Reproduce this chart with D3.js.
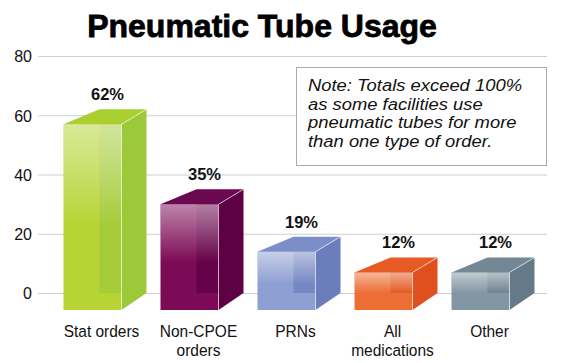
<!DOCTYPE html>
<html>
<head>
<meta charset="utf-8">
<script src="https://cdn.jsdelivr.net/npm/d3@7"></script>
<style>
  body { margin: 0; background: #fff; }
  svg { display: block; font-family: "Liberation Sans", Arial, sans-serif; }
</style>
</head>
<body>
<div id="chart"></div>
<script>
// chart data
var categories = ["Stat orders", "Non-CPOE orders", "PRNs", "All medications", "Other"];
var labelLines = [["Stat orders"], ["Non-CPOE", "orders"], ["PRNs"], ["All", "medications"], ["Other"]];
var values = [62, 35, 19, 12, 12];
var yTicks = [0, 20, 40, 60, 80];
var noteLines = ["Note: Totals exceed 100%", "as some facilities use", "pneumatic tubes for more", "than one type of order."];

// colours for each box: front, inner (back seen through), side, top
var palette = [
  { front: "#b7d334", inner: "#9fca3b", side: "#9cc93a", top: "#a9cf30" },
  { front: "#7c0a56", inner: "#5f0046", side: "#5e0044", top: "#6c084f" },
  { front: "#8e9fd3", inner: "#6e80bd", side: "#6b7dbb", top: "#7c8ec8" },
  { front: "#ec6e34", inner: "#e0541f", side: "#e04f1e", top: "#e65a24" },
  { front: "#8396a4", inner: "#677c8a", side: "#657a89", top: "#738794" }
];

var svgWidth = 564;
var svgHeight = 363;

var svg = d3.select("#chart")
  .append("svg")
  .attr("width", svgWidth)
  .attr("height", svgHeight);

// white highlight on the front of each box
var defs = svg.append("defs");
var hl = defs.append("linearGradient")
  .attr("id", "shine")
  .attr("x1", 0).attr("y1", 0).attr("x2", 0).attr("y2", 1);
hl.append("stop").attr("offset", "0").attr("stop-color", "#fff").attr("stop-opacity", 0.5);
hl.append("stop").attr("offset", "0.55").attr("stop-color", "#fff").attr("stop-opacity", 0);

// scales
var yScale = d3.scaleLinear()
  .domain([0, 80])
  .range([293, 56]);

var xScale = d3.scaleBand()
  .domain(categories)
  .range([53, 538]);

// gridlines + tick labels
var yAxis = d3.axisLeft(yScale)
  .tickValues(yTicks)
  .tickSize(-(547 - 38))
  .tickPadding(6);

var axisG = svg.append("g")
  .attr("transform", "translate(38,0)")
  .call(yAxis);
axisG.select(".domain").remove();
axisG.selectAll(".tick line").attr("stroke", "#cfcfcf").attr("stroke-width", 1);
axisG.selectAll(".tick text")
  .attr("font-size", 16)
  .attr("fill", "#111")
  .attr("x", -6)
  .attr("dy", "0.36em");

// note box
svg.append("rect")
  .attr("x", 296.5).attr("y", 67.5)
  .attr("width", 250).attr("height", 98)
  .attr("fill", "#fff")
  .attr("stroke", "#aaa");

// slightly smaller type stretched a bit so lines keep their width but don't collide
svg.append("g").selectAll("text")
  .data(noteLines)
  .enter()
  .append("text")
  .attr("transform", (d, i) => `translate(308, ${91 + i * 18.5}) scale(1.07,1)`)
  .attr("font-size", 17.2)
  .attr("font-style", "italic")
  .attr("fill", "#111")
  .text(d => d);

// box geometry
var dxL = 36, dxR = 25, dyTop = 15, dyBot = 17, fw = 58;
var base = yScale(0);

var bars = svg.append("g").selectAll("g")
  .data(categories)
  .enter()
  .append("g");

bars.each(function(c, i) {
  var g = d3.select(this);
  var col = palette[i];
  var fl = xScale(c) + xScale.bandwidth() / 2 - 38;
  var backTop = yScale(values[i]);
  var frontTop = backTop + dyTop;
  var frontBot = base + dyBot;

  // front face
  g.append("rect")
    .attr("x", fl).attr("y", frontTop)
    .attr("width", fw).attr("height", frontBot - frontTop)
    .attr("fill", col.front);
  // back face seen through the front
  g.append("rect")
    .attr("x", fl + dxL).attr("y", frontTop)
    .attr("width", fw - dxL).attr("height", base - frontTop)
    .attr("fill", col.inner)
    .attr("opacity", 0.75);
  g.append("rect")
    .attr("x", fl).attr("y", frontTop)
    .attr("width", fw).attr("height", frontBot - frontTop)
    .attr("fill", "url(#shine)");

  // side face
  g.append("path")
    .attr("d", d3.line()([[fl + fw, frontTop], [fl + fw + dxR, backTop], [fl + fw + dxR, base], [fl + fw, frontBot]]) + "Z")
    .attr("fill", col.side);

  // top face
  g.append("path")
    .attr("d", d3.line()([[fl, frontTop], [fl + dxL, backTop], [fl + fw + dxR, backTop], [fl + fw, frontTop]]) + "Z")
    .attr("fill", col.top);

  // light edges
  g.append("path")
    .attr("d", d3.line()([[fl + fw, frontBot], [fl + fw, frontTop], [fl + fw + dxR, backTop]]))
    .attr("fill", "none")
    .attr("stroke", "#fff")
    .attr("stroke-opacity", 0.6)
    .attr("stroke-width", 1);

  // value label
  g.append("text")
    .attr("x", fl + 44)
    .attr("y", backTop - 9)
    .attr("text-anchor", "middle")
    .attr("font-size", 16.5)
    .attr("font-weight", "bold")
    .attr("fill", "#111")
    .text(values[i] + "%");

  // category label (condensed)
  var cx = xScale(c) + xScale.bandwidth() / 2;
  labelLines[i].forEach(function(line, j) {
    g.append("text")
      .attr("transform", `translate(${cx}, ${337 + j * 19}) scale(0.9,1)`)
      .attr("text-anchor", "middle")
      .attr("font-size", 17.2)
      .attr("fill", "#111")
      .text(line);
  });
});

// title
svg.append("text")
  .attr("x", 262)
  .attr("y", 37)
  .attr("text-anchor", "middle")
  .attr("font-size", 32)
  .attr("font-weight", "bold")
  .attr("fill", "#000")
  .attr("stroke", "#000")
  .attr("stroke-width", 0.8)
  .text("Pneumatic Tube Usage");
</script>
</body>
</html>
